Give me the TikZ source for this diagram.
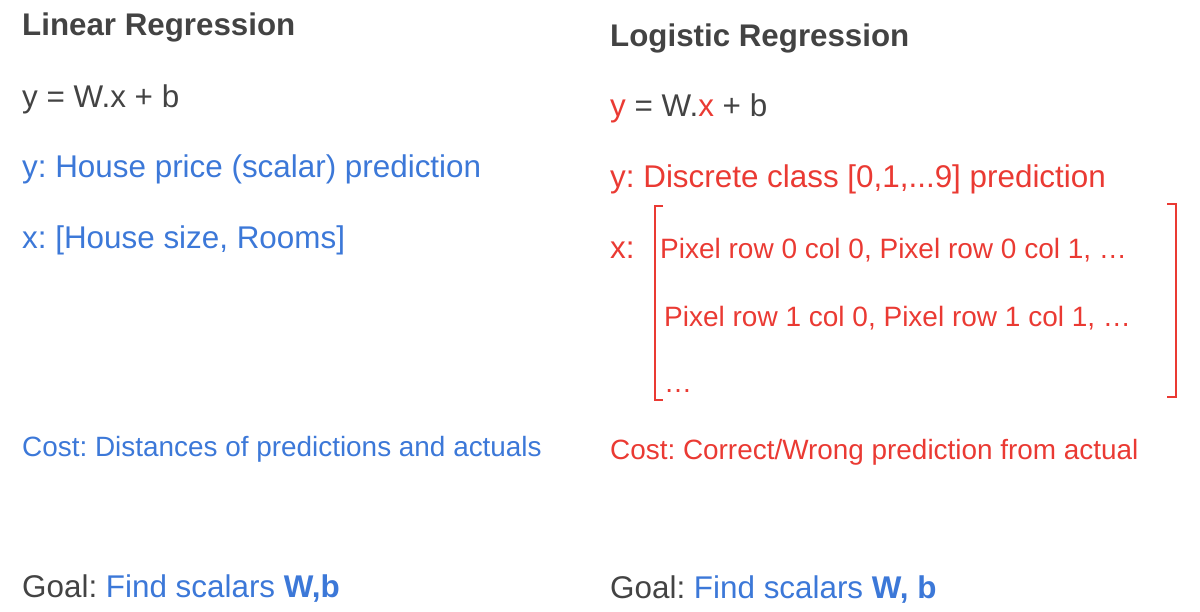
\documentclass[tikz,border=0pt]{standalone}
\usepackage{fontspec}
\setmainfont{Liberation Sans}
\frenchspacing
\definecolor{gtxt}{HTML}{434343}
\definecolor{gblue}{HTML}{3C78D8}
\definecolor{gred}{HTML}{EA3A33}
\begin{document}
\begin{tikzpicture}[x=1pt,y=-1pt,
  lbl/.style={anchor=base west,inner sep=0pt,text=gtxt,font=\fontsize{31.4}{34}\selectfont},
  ttl/.style={lbl,font=\fontsize{31.3}{34}\selectfont\bfseries},
  sml/.style={lbl,font=\fontsize{27.9}{30}\selectfont},
  pix/.style={lbl,text=gred,font=\fontsize{28}{30}\selectfont},
  brk/.style={draw=gred,line width=1.8pt}]
\useasboundingbox (0,0) rectangle (1200,611);
\node[ttl] (lt) at (22,35) {Linear Regression};
\node[lbl] (le) at (22,107) {y = W.x + b};
\node[lbl,text=gblue] (ly) at (22,177) {y: House price (scalar) prediction};
\node[lbl,text=gblue] (lx) at (22,248) {x: [House size, Rooms]};
\node[sml,text=gblue] (lc) at (22,456) {Cost: Distances of predictions and actuals};
\node[lbl] (lg) at (22,597) {Goal: \textcolor{gblue}{Find scalars \textbf{W,b}}};
\node[ttl] (rt) at (610,46) {Logistic Regression};
\node[lbl] (re) at (610,116) {\textcolor{gred}{y} = W.\textcolor{gred}{x} + b};
\node[lbl,text=gred] (ry) at (610,187) {y: Discrete class [0,1,...9] prediction};
\node[lbl,text=gred] (rx) at (610,258) {x:};
\node[pix] (p0) at (660,258) {Pixel row 0 col 0, Pixel row 0 col 1, …};
\node[pix] (p1) at (664,326) {Pixel row 1 col 0, Pixel row 1 col 1, …};
\node[pix] (p2) at (664,392) {…};
\node[sml,text=gred] (rc) at (610,459) {Cost: Correct/Wrong prediction from actual};
\node[lbl] (rg) at (610,598) {Goal: \textcolor{gblue}{Find scalars \textbf{W, b}}};
\draw[brk] (663,206) -- (655,206) -- (655,400) -- (663,400);
\draw[brk] (1167,204) -- (1176,204) -- (1176,397) -- (1167,397);
\end{tikzpicture}
\end{document}
